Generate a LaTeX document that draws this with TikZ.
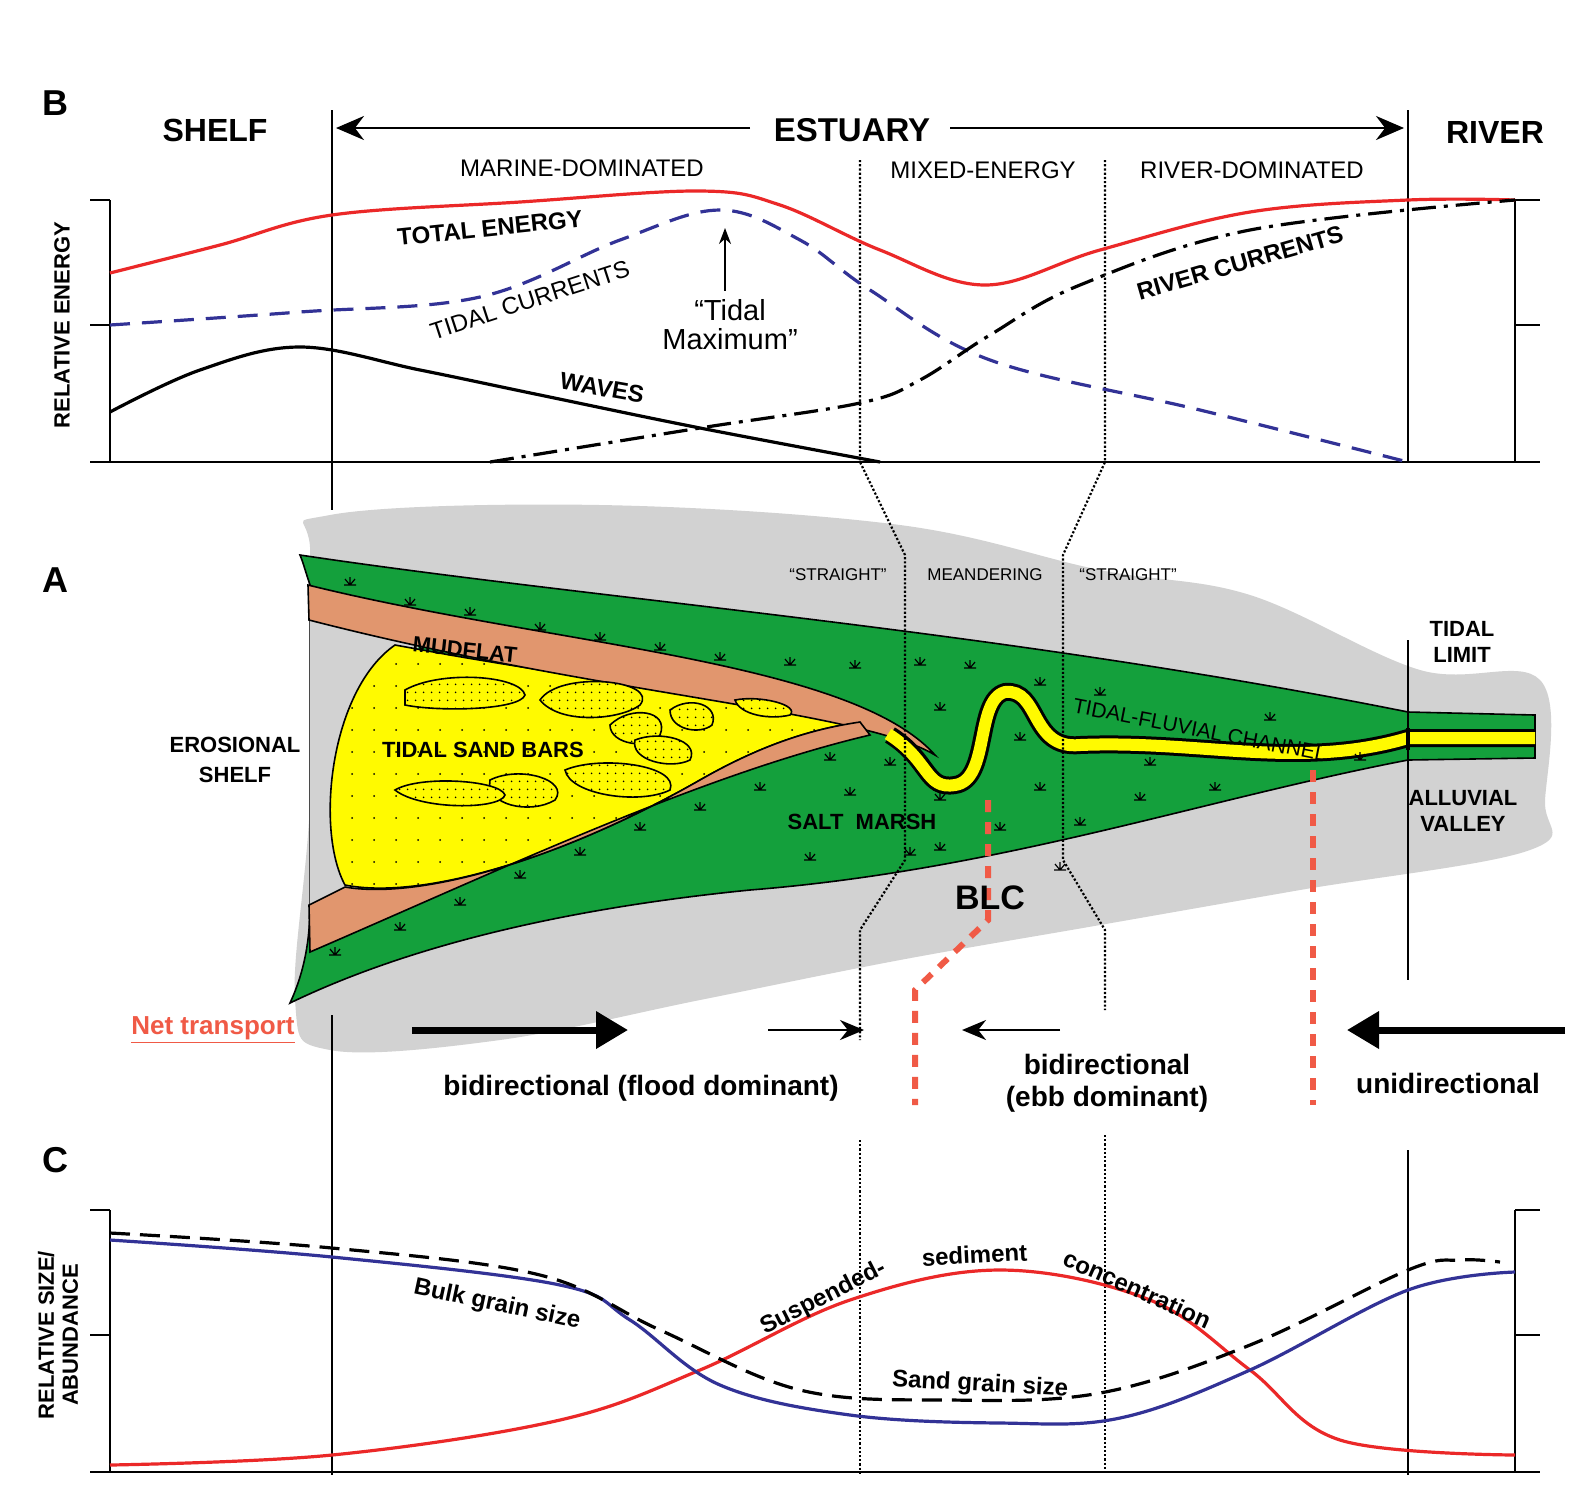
\documentclass[tikz,border=0pt]{standalone}
\usepackage{fontspec}
\setmainfont{Liberation Sans}
\usetikzlibrary{arrows.meta,patterns.meta}
\definecolor{mgreen}{RGB}{20,160,60}
\definecolor{mbrown}{RGB}{225,150,110}
\definecolor{myellow}{RGB}{255,250,0}
\definecolor{mgray}{RGB}{210,210,210}
\definecolor{mblue}{RGB}{50,50,150}
\definecolor{mred}{RGB}{235,40,40}
\definecolor{ored}{RGB}{240,90,70}
\tikzset{
 fs/.style={font=\fontsize{#1}{#1}\selectfont},
 ax/.style={line width=1.4pt},
 dotl/.style={densely dotted, line width=1.1pt},
 plant/.pic={\draw[line width=0.6pt] (-6,0)--(6,0) (0,0)--(-5,-6) (0,0)--(0,-8) (0,0)--(5,-6);},
 bar/.style={draw, line width=0.8pt, fill=myellow, postaction={pattern={Dots[radius=0.5pt,distance=4pt]}}},
}
\begin{document}
\begin{tikzpicture}[x=0.5pt,y=-0.5pt]
\useasboundingbox (0,0) rectangle (1582,1500);
\fill[white] (0,0) rectangle (1582,1500);
% ===== Panel A shapes =====
\fill[mgray] plot[smooth cycle,tension=0.6] coordinates {(330,515) (600,505) (900,525) (1100,570) (1250,595) (1420,670) (1540,680) (1545,800) (1530,850) (1300,890) (1100,925) (900,960) (700,1000) (500,1040) (330,1050) (295,1000) (310,800) (310,560)};
% green
\filldraw[fill=mgreen,line width=0.8pt] (300,555) .. controls (600,600) and (1000,630) .. (1408,712) -- (1535,715) -- (1535,758) -- (1408,760) .. controls (1200,800) and (1000,870) .. (750,890) .. controls (550,910) and (400,950) .. (290,1003) .. controls (310,960) and (310,920) .. (310,900) -- (310,585) .. controls (305,570) and (303,562) .. (300,555) -- cycle;
% gray gap left of yellow
\fill[mgray] (309.5,612) -- (420,640) -- (360,895) -- (309.5,910) -- cycle;
% yellow
\filldraw[fill=myellow,line width=0.8pt] (395,645) .. controls (330,690) and (315,830) .. (345,885) .. controls (420,900) and (560,860) .. (700,780) .. controls (770,740) and (820,728) .. (860,722) -- (910,740) .. controls (860,710) and (650,690) .. (450,655) -- cycle;
\fill[pattern={Dots[radius=0.5pt,distance=11pt]}] (395,645) .. controls (330,690) and (315,830) .. (345,885) .. controls (420,900) and (560,860) .. (700,780) .. controls (770,740) and (820,728) .. (860,722) -- (910,740) .. controls (860,710) and (650,690) .. (450,655) -- cycle;
% upper brown
\filldraw[fill=mbrown,line width=0.8pt] (308,585) .. controls (550,645) and (850,660) .. (935,755) .. controls (860,710) and (600,695) .. (309,620) -- cycle;
% lower brown
\filldraw[fill=mbrown,line width=0.8pt] (309,905) -- (345,887) .. controls (420,900) and (560,860) .. (700,780) .. controls (770,740) and (820,728) .. (860,722) -- (870,735) .. controls (700,775) and (500,870) .. (310,952) -- cycle;
% sand bars
\draw[bar] (405,690) .. controls (440,670) and (520,675) .. (525,695) .. controls (520,710) and (440,712) .. (405,705) -- cycle;
\draw[bar] (540,700) .. controls (560,670) and (660,680) .. (640,705) .. controls (620,720) and (560,725) .. (540,700) -- cycle;
\draw[bar] (610,725) .. controls (630,705) and (670,710) .. (660,735) .. controls (650,750) and (610,745) .. (610,725) -- cycle;
\draw[bar] (670,710) .. controls (690,695) and (720,705) .. (712,725) .. controls (700,735) and (670,730) .. (670,710) -- cycle;
\draw[bar] (635,740) .. controls (660,730) and (700,740) .. (690,760) .. controls (670,770) and (630,760) .. (635,740) -- cycle;
\draw[bar] (735,700) .. controls (760,695) and (800,705) .. (790,715) .. controls (770,720) and (740,715) .. (735,700) -- cycle;
\draw[bar] (565,770) .. controls (600,755) and (680,765) .. (670,790) .. controls (640,805) and (570,795) .. (565,770) -- cycle;
\draw[bar] (490,780) .. controls (520,765) and (570,780) .. (555,800) .. controls (530,815) and (485,805) .. (490,780) -- cycle;
\draw[bar] (395,790) .. controls (420,775) and (500,780) .. (505,795) .. controls (500,810) and (420,810) .. (395,790) -- cycle;
% channel
\draw[line width=9pt,line cap=butt] (890,735) .. controls (930,760) and (925,790) .. (955,785) .. controls (990,780) and (975,700) .. (1005,692) .. controls (1040,688) and (1030,750) .. (1080,745) .. controls (1200,740) and (1300,770) .. (1408,738) -- (1535,738);
\draw[myellow,line width=6pt,line cap=butt] (888,734) .. controls (930,760) and (925,790) .. (955,785) .. controls (990,780) and (975,700) .. (1005,692) .. controls (1040,688) and (1030,750) .. (1080,745) .. controls (1200,740) and (1300,770) .. (1408,738) -- (1535,738);
\draw[line width=2pt] (1408,728)--(1408,750);
% plants
\foreach \p in {(350,585),(410,605),(470,615),(540,630),(600,640),(660,650),(720,660),(790,665),(855,668),(920,665),(970,668),(1040,685),(1100,695),(1270,720),(940,710),(1020,740),(830,760),(890,765),(940,800),(850,795),(760,790),(700,810),(640,830),(580,855),(520,878),(460,905),(400,930),(335,955),(810,860),(910,855),(1000,830),(1080,825),(1140,800),(1215,790),(1360,760),(1150,765),(1040,790),(940,850),(1060,870)}
 \pic at \p {plant};
% dotted estuary lines
\draw[dotl] (860,160)--(860,462)--(905,555)--(905,860)--(860,930)--(860,1040);
\draw[dotl] (1105,160)--(1105,462)--(1063,555)--(1063,860)--(1105,930)--(1105,1010);
\draw[dotl] (860,1140)--(860,1475);
\draw[dotl] (1105,1135)--(1105,1470);
% red dotted
\draw[ored,dash pattern=on 6pt off 5pt,line width=3pt] (988,800)--(988,920)--(915,990)--(915,1105);
\draw[ored,dash pattern=on 6pt off 5pt,line width=3pt] (1313,770)--(1313,1105);
% ===== Panel B =====
\draw[ax] (110,200)--(110,462);
\draw[ax] (90,462)--(1540,462);
\draw[ax] (90,200)--(110,200) (90,325)--(110,325);
\draw[ax] (1515,200)--(1515,462) (1495,200)--(1540,200) (1515,325)--(1540,325);
\draw[ax] (332,110)--(332,510);
\draw[ax] (1408,110)--(1408,462) (1408,640)--(1408,980);
\draw[ax] (332,1015)--(332,1475);
\draw[ax] (1408,1150)--(1408,1475);
\draw[ax,-{Stealth[length=14pt,width=12pt]}] (750,128)--(336,128);
\draw[ax,-{Stealth[length=14pt,width=12pt]}] (950,128)--(1404,128);
\node[font=\bfseries\fontsize{16.5}{16.5}\selectfont] (est) at (852,130) {ESTUARY};
\node[font=\bfseries\fontsize{16}{16}\selectfont] (shelf) at (215,130) {SHELF};
\node[font=\bfseries\fontsize{16}{16}\selectfont] (river) at (1495,132) {RIVER};
\node[font=\bfseries\fontsize{18}{18}\selectfont] (B) at (55,103) {B};
\node[font=\bfseries\fontsize{18}{18}\selectfont] (A) at (55,580) {A};
\node[font=\bfseries\fontsize{18}{18}\selectfont] (C) at (55,1160) {C};
\node[fs=12] (md) at (582,168) {MARINE-DOMINATED};
\node[fs=12] (me) at (983,170) {MIXED-ENERGY};
\node[fs=12] (rd) at (1252,170) {RIVER-DOMINATED};
\node[font=\bfseries\fontsize{11}{11}\selectfont,rotate=90] (re) at (62,325) {RELATIVE ENERGY};
% curves B
\draw[mred,line width=1.6pt] plot[smooth,tension=0.6] coordinates {(110,273) (220,245) (332,215) (520,202) (700,191) (780,205) (880,250) (985,285) (1100,250) (1250,212) (1408,200) (1515,200)};
\draw[mblue,dash pattern=on 10pt off 6pt,line width=1.6pt] plot[smooth,tension=0.6] coordinates {(110,325) (300,312) (480,297) (620,240) (720,210) (800,240) (870,290) (990,360) (1200,410) (1408,462)};
\draw[line width=1.6pt] plot[smooth,tension=0.6] coordinates {(110,412) (200,370) (300,347) (420,370) (540,395) (700,428) (880,462)};
\draw[line width=1.6pt,dash pattern=on 12pt off 4pt on 2pt off 4pt] plot[smooth,tension=0.6] coordinates {(490,462) (700,428) (860,403) (920,380) (990,335) (1080,285) (1250,230) (1515,200)};
\node[font=\bfseries\fontsize{12}{12}\selectfont,rotate=6] (te) at (490,228) {TOTAL ENERGY};
\node[fs=12,rotate=18] (tc) at (530,300) {TIDAL CURRENTS};
\node[font=\bfseries\fontsize{12}{12}\selectfont,rotate=-10] (wv) at (602,388) {WAVES};
\node[font=\bfseries\fontsize{12}{12}\selectfont,rotate=16] (rc) at (1240,263) {RIVER CURRENTS};
\node[fs=14.5,align=center] (tm) at (730,325) {“Tidal\\Maximum”};
\draw[line width=1pt,-{Stealth[length=8pt]}] (tm.north -| 725,0) ++(0,-2) -- (725,228);
% ===== Panel A labels =====
\node[fs=8.5] (st1) at (838,575) {“STRAIGHT”};
\node[fs=8.5] (mea) at (985,575) {MEANDERING};
\node[fs=8.5] (st2) at (1128,575) {“STRAIGHT”};
\node[font=\bfseries\fontsize{11}{11}\selectfont,rotate=-6] (mud) at (465,650) {MUDFLAT};
\node[font=\bfseries\fontsize{11}{11}\selectfont] (tsb) at (483,750) {TIDAL SAND BARS};
\node[font=\bfseries\fontsize{11}{11}\selectfont] (sm) at (862,822) {SALT\ \ MARSH};
\node[fs=10.5,rotate=-11] (tfc) at (1200,730) {TIDAL-FLUVIAL CHANNEL};
\node[font=\bfseries\fontsize{11}{13}\selectfont,align=center] (es) at (235,760) {EROSIONAL\\[2pt]SHELF};
\node[font=\bfseries\fontsize{11}{13}\selectfont,align=center] (tl) at (1462,642) {TIDAL\\LIMIT};
\node[font=\bfseries\fontsize{11}{13}\selectfont,align=center] (av) at (1463,811) {ALLUVIAL\\VALLEY};
\node[font=\bfseries\fontsize{17}{17}\selectfont] (blc) at (990,898) {BLC};
% transport
\node[font=\bfseries\fontsize{13}{13}\selectfont,text=ored] (nt) at (213,1030) {\underline{Net transport}};
\draw[line width=3.5pt,-{Triangle[length=16pt,width=18pt]}] (412,1030)--(628,1030);
\draw[line width=1.2pt,-{Stealth[length=12pt,width=10pt]}] (768,1030)--(864,1030);
\draw[line width=1.2pt,-{Stealth[length=12pt,width=10pt]}] (1060,1030)--(962,1030);
\draw[line width=3.5pt,-{Triangle[length=16pt,width=18pt]}] (1565,1030)--(1347,1030);
\node[font=\bfseries\fontsize{14}{14}\selectfont] (bf) at (641,1088) {bidirectional (flood dominant)};
\node[font=\bfseries\fontsize{14}{16}\selectfont,align=center] (be) at (1107,1083) {bidirectional\\(ebb dominant)};
\node[font=\bfseries\fontsize{14}{14}\selectfont] (un) at (1448,1083) {unidirectional};
% ===== Panel C =====
\draw[ax] (110,1210)--(110,1472);
\draw[ax] (90,1472)--(1540,1472);
\draw[ax] (90,1210)--(110,1210) (90,1335)--(110,1335);
\draw[ax] (1515,1210)--(1515,1472) (1515,1210)--(1540,1210) (1515,1335)--(1540,1335);
\node[font=\bfseries\fontsize{11}{12}\selectfont,rotate=90,align=center] (rs) at (58,1335) {RELATIVE SIZE/\\ABUNDANCE};
\draw[mred,line width=1.6pt] plot[smooth,tension=0.6] coordinates {(110,1465) (332,1455) (560,1420) (700,1370) (850,1300) (1000,1270) (1150,1300) (1250,1370) (1340,1440) (1515,1455)};
\draw[mblue,line width=1.6pt] plot[smooth,tension=0.6] coordinates {(110,1240) (332,1257) (560,1285) (630,1320) (720,1385) (850,1415) (1000,1423) (1120,1418) (1250,1370) (1408,1290) (1515,1272)};
\draw[line width=1.6pt,dash pattern=on 10pt off 5pt] plot[smooth,tension=0.6] coordinates {(110,1233) (332,1248) (540,1275) (660,1330) (800,1390) (950,1400) (1100,1393) (1250,1345) (1408,1270) (1460,1260) (1500,1262)};
\node[font=\bfseries\fontsize{12}{12}\selectfont,rotate=-12] (bg) at (497,1305) {Bulk grain size};
\node[font=\bfseries\fontsize{12}{12}\selectfont,rotate=-3] (sg) at (980,1385) {Sand grain size};
\node[font=\bfseries\fontsize{12}{12}\selectfont,rotate=27,anchor=south east,inner sep=1pt] (ssa) at (893,1278) {Suspended-};
\node[font=\bfseries\fontsize{12}{12}\selectfont,rotate=3,anchor=south,inner sep=1pt] (ssb) at (975,1266) {sediment};
\node[font=\bfseries\fontsize{12}{12}\selectfont,rotate=-24,anchor=south west,inner sep=1pt] (ssc) at (1058,1266) {concentration};
\end{tikzpicture}
\end{document}
